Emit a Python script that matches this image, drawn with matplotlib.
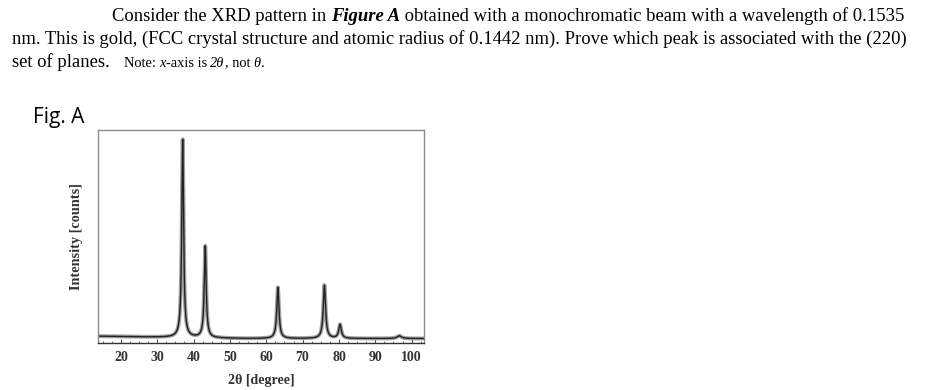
import numpy as np
import matplotlib

matplotlib.use("Agg")

import matplotlib.pyplot as plt
from matplotlib.ticker import MultipleLocator


# -------------------------------------------------------------------------
# Data
# -------------------------------------------------------------------------

peak_pos = [37.0, 43.2, 63.2, 76.0, 80.3, 96.6]       # 2theta [deg]
peak_height = [0.93, 0.43, 0.24, 0.25, 0.065, 0.013]  # above background
peak_hwhm = [0.30, 0.32, 0.36, 0.38, 0.42, 0.7]

bg_left = 0.032
bg_right = 0.021

xticks = [20, 30, 40, 50, 60, 70, 80, 90, 100]

two_theta = np.linspace(13.7, 103.4, 6000)
background = bg_left + (bg_right - bg_left) * np.clip((two_theta - 13.7) / 40.0, 0, 1)
intensity = background.copy()
for p, h, w in zip(peak_pos, peak_height, peak_hwhm):
    intensity += h / (1.0 + ((two_theta - p) / w) ** 2)


# -------------------------------------------------------------------------
# Figure
# -------------------------------------------------------------------------

fig = plt.figure(figsize=(9.31, 3.90), dpi=100)
renderer = fig.canvas.get_renderer()

SERIF = "Liberation Serif"
BIG = 13.4
SMALL = 10.4


def write_line(x_px, y_px, pieces):
    # pieces: list of (text, fontsize, weight, style)
    x = x_px
    for txt, size, weight, style in pieces:
        t = fig.text(
            x / 931, 1 - y_px / 390, txt,
            fontsize=size, fontweight=weight, fontstyle=style,
            family=SERIF, va="baseline", ha="left",
        )
        bb = t.get_window_extent(renderer)
        x += bb.width


write_line(112, 21, [
    ("Consider the XRD pattern in ", BIG, "normal", "normal"),
    ("Figure A", BIG, "bold", "italic"),
    (" obtained with a monochromatic beam with a wavelength of 0.1535", BIG, "normal", "normal"),
])
write_line(12, 44, [
    ("nm. This is gold, (FCC crystal structure and atomic radius of 0.1442 nm). "
     "Prove which peak is associated with the (220)", BIG, "normal", "normal"),
])
write_line(12, 67, [
    ("set of planes.   ", BIG, "normal", "normal"),
    ("Note: ", SMALL, "normal", "normal"),
    ("x", SMALL, "normal", "italic"),
    ("-axis is ", SMALL, "normal", "normal"),
    ("2\u03b8", SMALL, "normal", "italic"),
    (", not ", SMALL, "normal", "normal"),
    ("\u03b8", SMALL, "normal", "italic"),
    (".", SMALL, "normal", "normal"),
])

fig.text(33 / 931, 1 - 117 / 390, "Fig. A", fontsize=15, family="Open Sans",
         va="center", ha="left")

ax = fig.add_axes([98 / 931, 1 - 343 / 390, 326 / 931, 213 / 390])

ax.plot(two_theta, intensity, color="#a0a0a0", linewidth=2.8)
ax.plot(two_theta, intensity, color="#222222", linewidth=1.0)

ax.set_xlim(13.7, 103.4)
ax.set_ylim(0, 1)
ax.set_xticks(xticks)
ax.xaxis.set_minor_locator(MultipleLocator(2.5))
ax.set_yticks([])

for s in ax.spines.values():
    s.set_color("#8c8c8c")
    s.set_linewidth(1.0)
ax.spines["bottom"].set_color("#333333")

ax.tick_params(axis="x", which="both", direction="in", color="#555555",
               labelsize=10, pad=6)
ax.tick_params(axis="x", which="major", length=3)
ax.tick_params(axis="x", which="minor", length=1.5)
for lab in ax.get_xticklabels():
    lab.set_family(SERIF)
    lab.set_fontweight("bold")
    lab.set_color("#333333")

ax.set_xlabel("2\u03b8 [degree]", family=SERIF, fontweight="bold",
              fontsize=10, color="#333333", labelpad=7)
ax.set_ylabel("Intensity [counts]", family=SERIF, fontweight="bold",
              fontsize=10.3, color="#333333", labelpad=11)

fig.savefig("out.png", dpi=100)
